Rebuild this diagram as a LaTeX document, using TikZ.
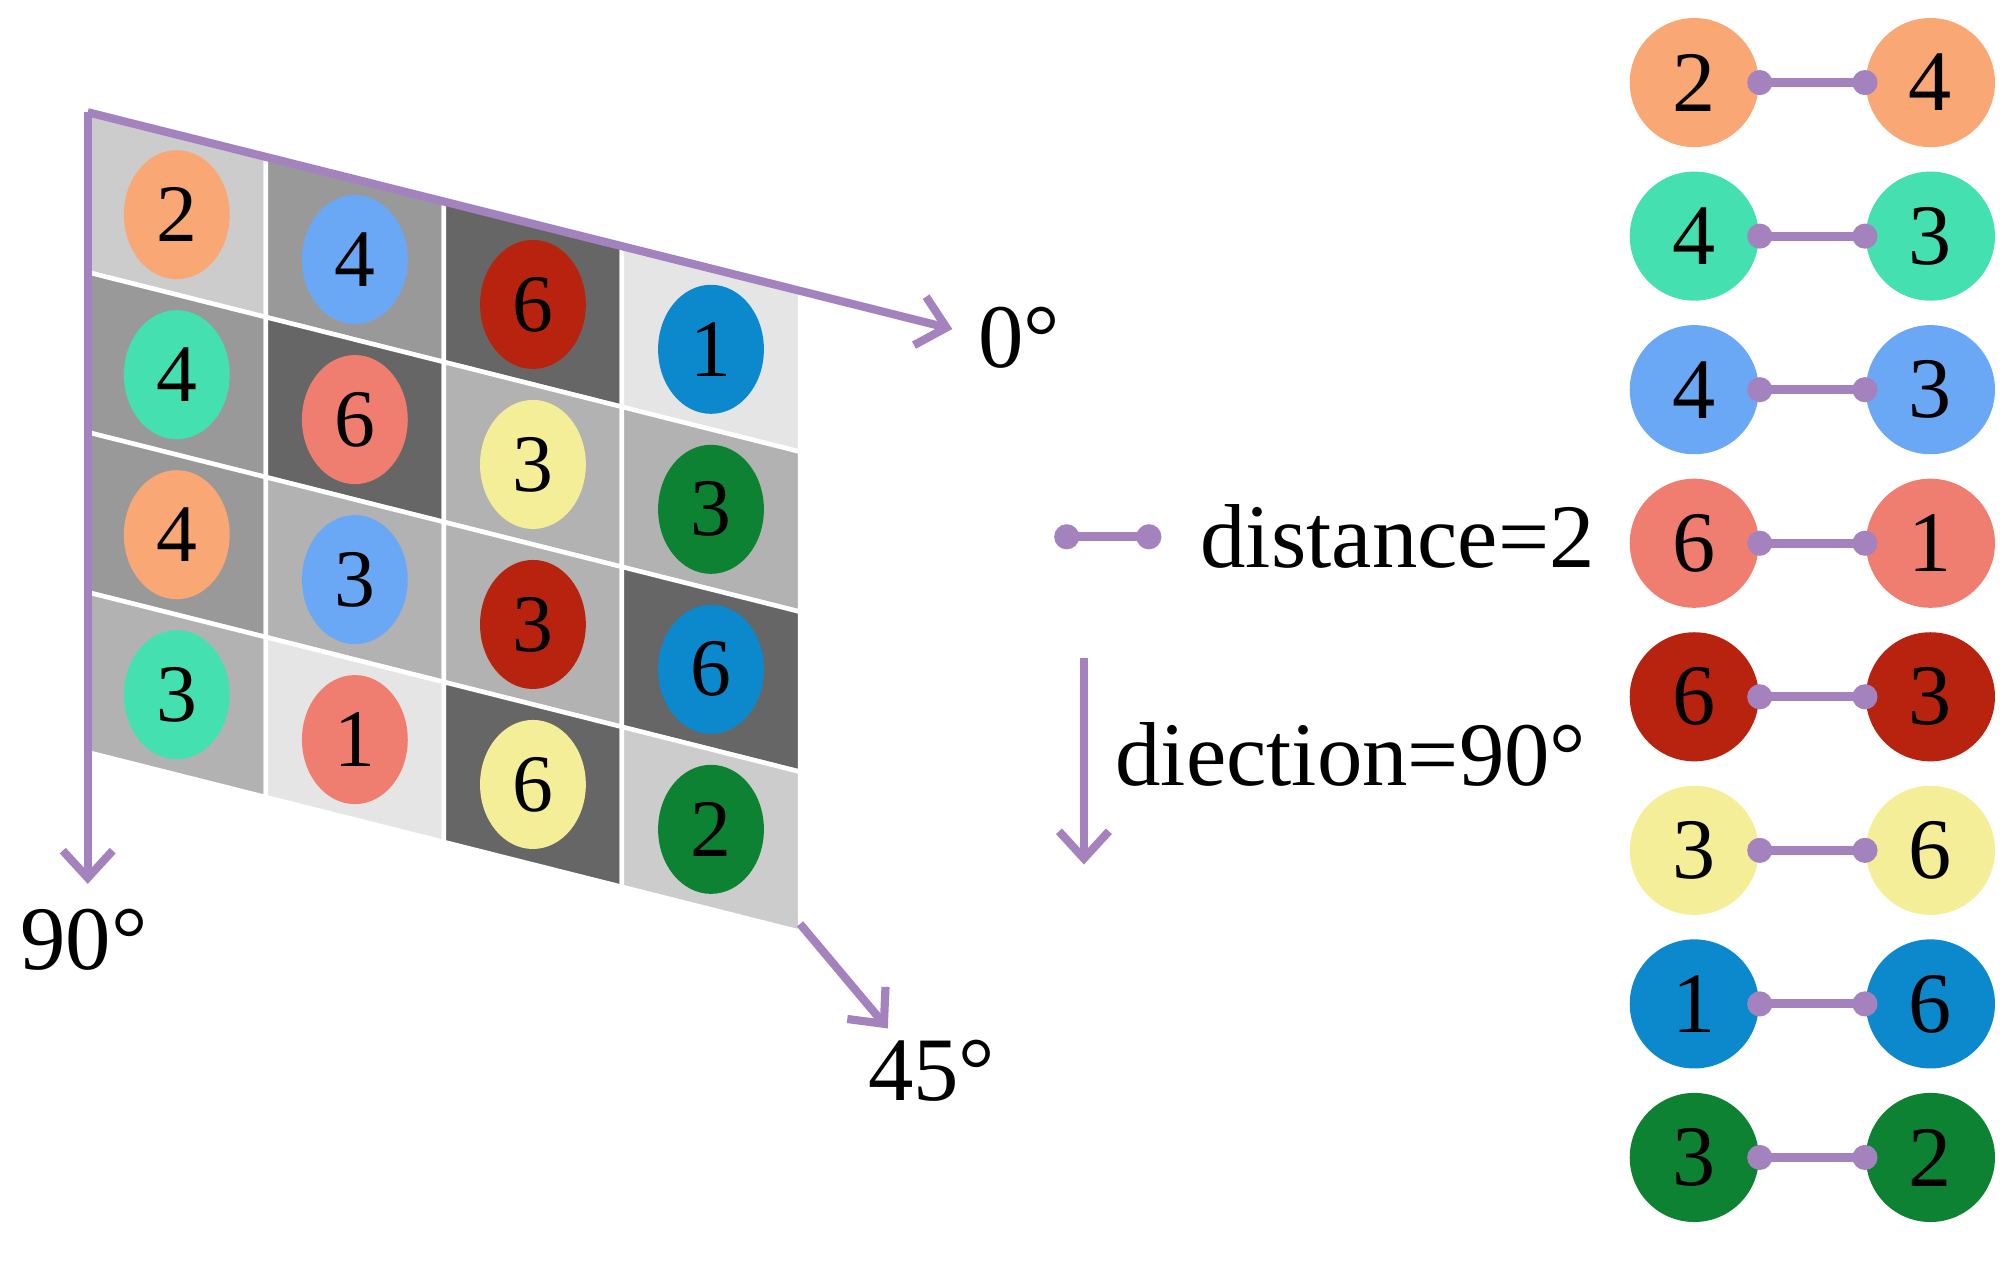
\documentclass[tikz,border=0pt]{standalone}
\usepackage{fontspec}
\setmainfont{Liberation Serif}
\usetikzlibrary{arrows.meta}
\definecolor{cor}{HTML}{F9A775}
\definecolor{cte}{HTML}{45E0B0}
\definecolor{cbl}{HTML}{6AA8F5}
\definecolor{csa}{HTML}{F07E70}
\definecolor{cdr}{HTML}{B8230F}
\definecolor{cye}{HTML}{F5EE98}
\definecolor{cdb}{HTML}{0C88CC}
\definecolor{cgr}{HTML}{0D8232}
\definecolor{ax}{HTML}{A482BE}
\tikzset{arr/.style={ax,line width=1.8pt,-{Straight Barb[length=6pt,width=11pt]}},
 lab/.style={font=\fontsize{20}{20}\selectfont},
 dig/.style={font=\fontsize{18}{18}\selectfont},
 big/.style={circle,minimum size=1cm,inner sep=0pt,font=\fontsize{19}{19}\selectfont},
 dot/.style={ax,line width=2pt,{Circle[length=5.5pt]}-{Circle[length=5.5pt]}}}
\begin{document}
\begin{tikzpicture}[x=0.01cm,y=-0.01cm]
\useasboundingbox (0,0) rectangle (1560,986);
\def\s{0.252}
\foreach \c/\ga/\gb/\gc/\gd in {0/80/60/60/70,1/60/40/70/90,2/40/70/70/40,3/90/70/40/80}{
 \pgfmathsetmacro\xa{68+138*\c}
 \pgfmathsetmacro\xb{\xa+138}
 \foreach \r/\g in {0/\ga,1/\gb,2/\gc,3/\gd}{
  \pgfmathsetmacro\ya{87+\s*(\xa-68)+124*\r}
  \pgfmathsetmacro\yb{87+\s*(\xb-68)+124*\r}
  \fill[white!\g!black,draw=white,line width=1pt] (\xa,\ya) -- (\xb,\yb) -- (\xb,\yb+124) -- (\xa,\ya+124) -- cycle;
 }}
\foreach \c/\r/\n/\col in {0/0/2/cor,0/1/4/cte,0/2/4/cor,0/3/3/cte,
 1/0/4/cbl,1/1/6/csa,1/2/3/cbl,1/3/1/csa,
 2/0/6/cdr,2/1/3/cye,2/2/3/cdr,2/3/6/cye,
 3/0/1/cdb,3/1/3/cgr,3/2/6/cdb,3/3/2/cgr}{
 \pgfmathsetmacro\xc{68+138*\c+69}
 \pgfmathsetmacro\yc{87+\s*(\xc-68)+124*(\r+0.5)}
 \fill[\col] (\xc,\yc) ellipse [x radius=41,y radius=50];
 \node[dig] (g\c\r) at (\xc,\yc) {\n};
}
\coordinate (o) at (68,87);
\coordinate (e0) at (738,255);
\coordinate (e90) at (68,685);
\coordinate (c45) at (620,716);
\coordinate (e45) at (688,797);
\draw[arr] (o) -- (e0);
\draw[arr] (o) -- (e90);
\draw[arr] (c45) -- (e45);
\node[lab] (l0) at (790,262) {0°};
\node[lab] (l90) at (65,728) {90°};
\node[lab] (l45) at (722,830) {45°};
\coordinate (da) at (817,416); \coordinate (db) at (900,416);
\draw[dot] (da) -- (db);
\node[lab,anchor=west] (dl) at (918,416) {distance=2};
\coordinate (ra) at (840,510); \coordinate (rb) at (840,670);
\draw[arr] (ra) -- (rb);
\node[lab,anchor=west] (rl) at (852,585) {diection=90°};
\foreach \i/\a/\b/\ca/\cb in {0/2/4/cor/cor,1/4/3/cte/cte,2/4/3/cbl/cbl,3/6/1/csa/csa,4/6/3/cdr/cdr,5/3/6/cye/cye,6/1/6/cdb/cdb,7/3/2/cgr/cgr}{
 \pgfmathsetmacro\yy{64+119*\i}
 \node[big,fill=\ca] (pa\i) at (1313,\yy) {\a};
 \node[big,fill=\cb] (pb\i) at (1496,\yy) {\b};
 \draw[dot,shorten <=-2.75pt,shorten >=-2.75pt] (pa\i.east) -- (pb\i.west);
}
\end{tikzpicture}
\end{document}
